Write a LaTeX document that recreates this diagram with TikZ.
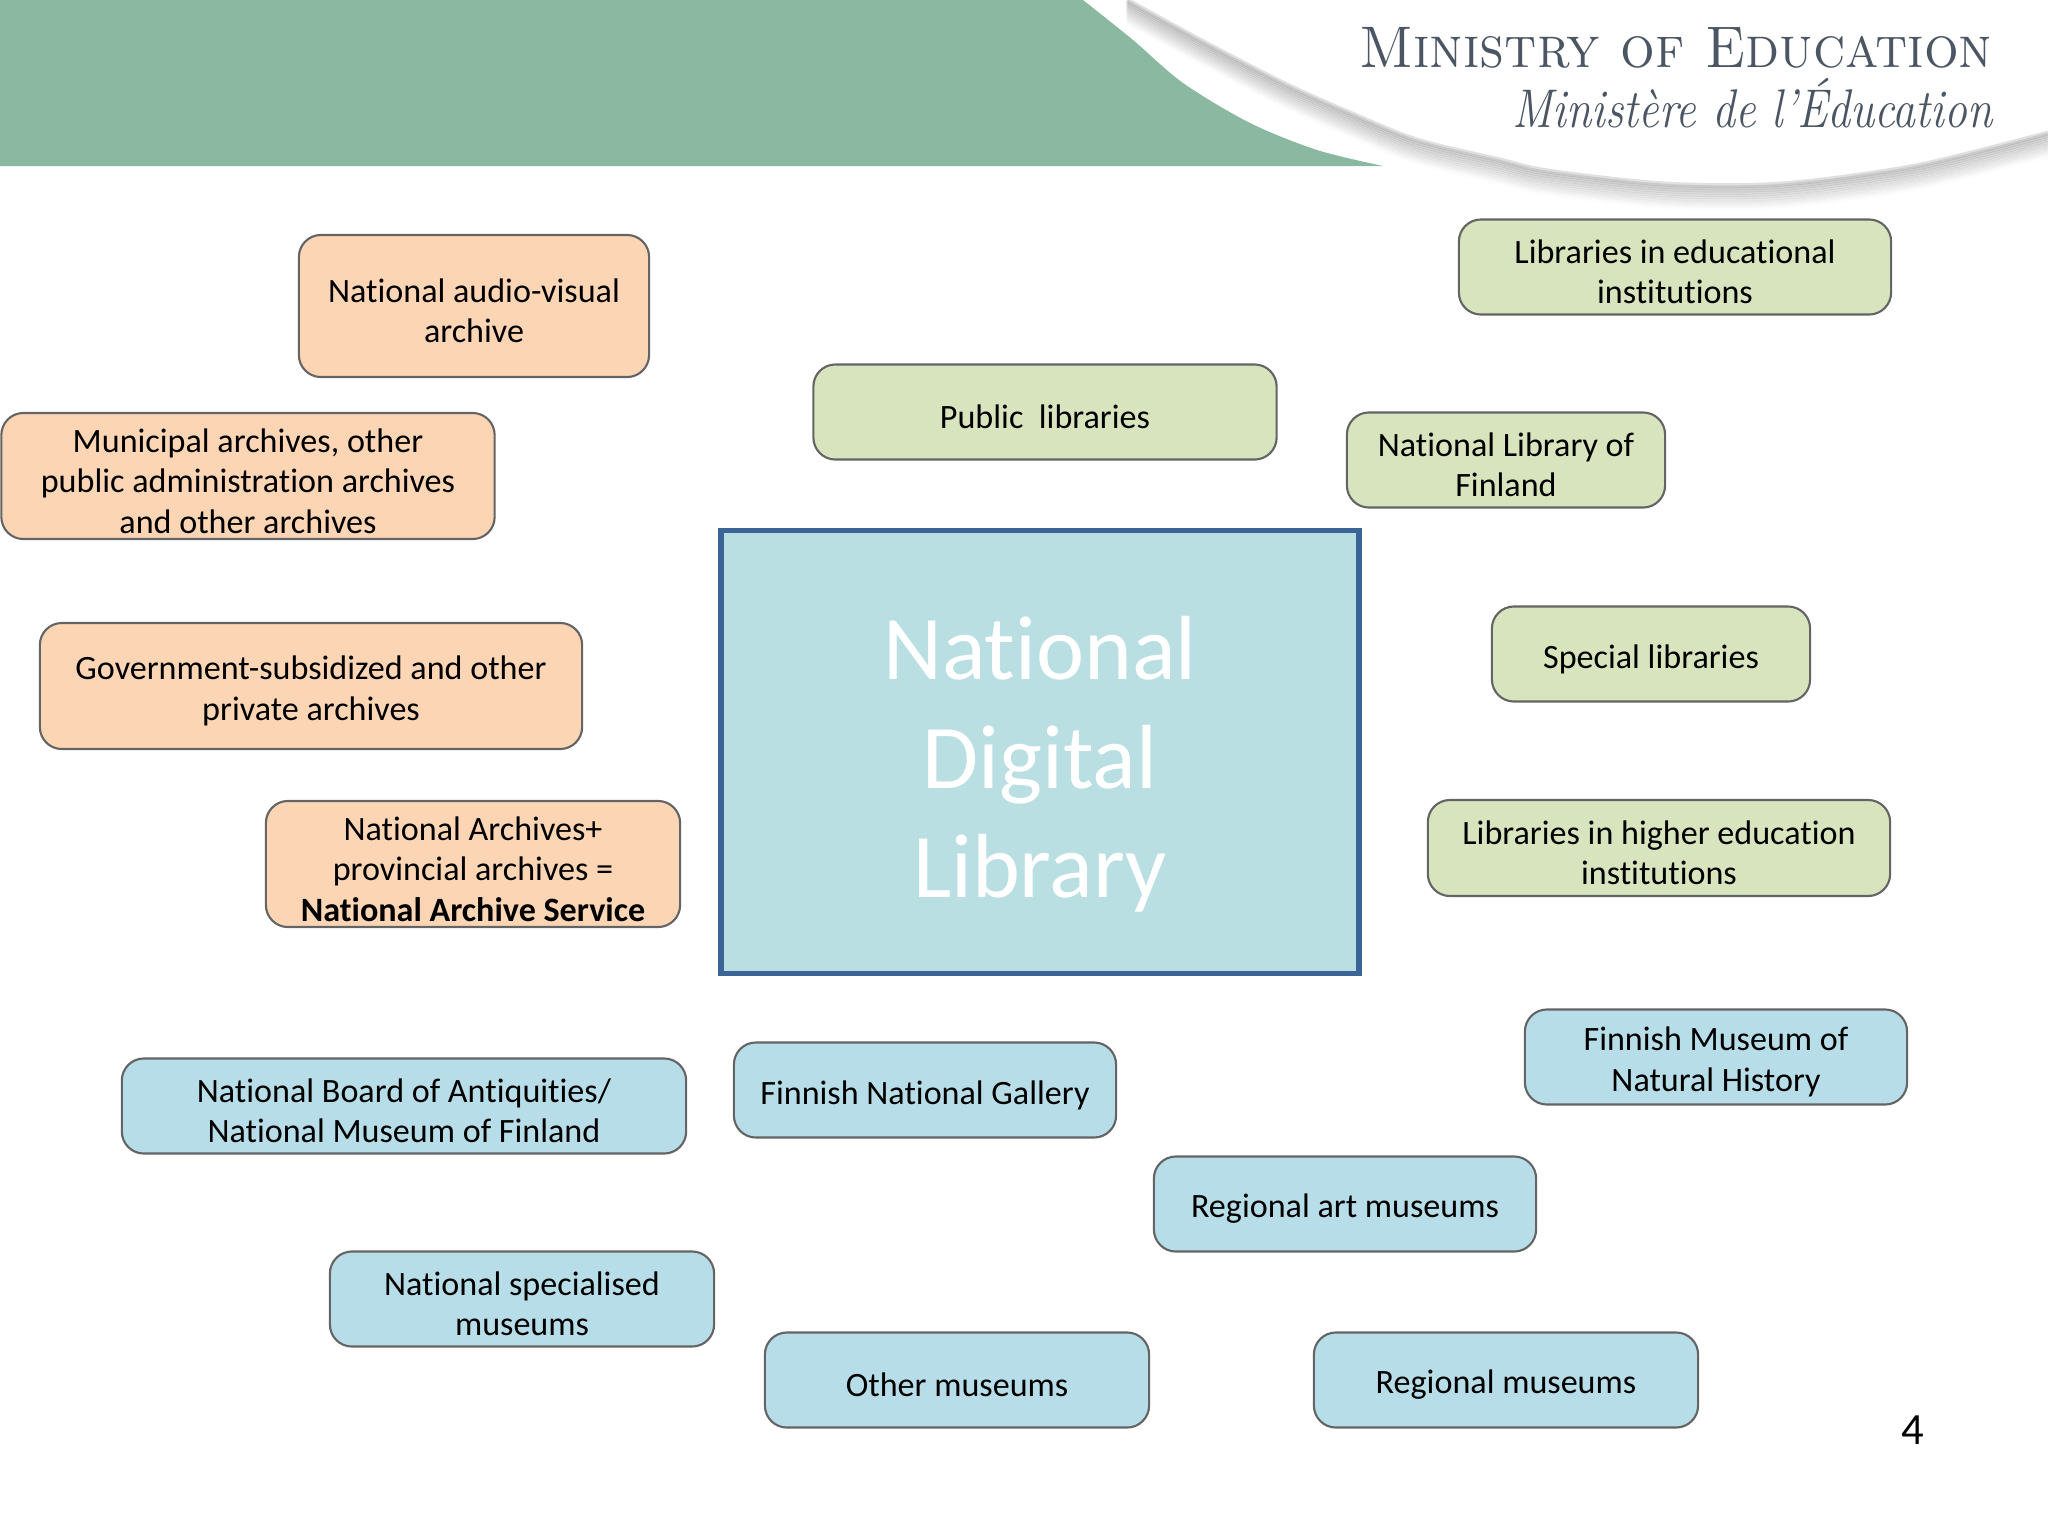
\documentclass[tikz,border=0pt]{standalone}
\usepackage{fontspec}
\setsansfont{Carlito}[Ligatures={NoCommon,NoContextual}]
\usetikzlibrary{calc,positioning}
\definecolor{archivefill}{RGB}{252,213,181}
\definecolor{libraryfill}{RGB}{215,228,189}
\definecolor{museumfill}{RGB}{183,222,232}
\definecolor{ndlfill}{RGB}{185,223,226}
\definecolor{ndlline}{RGB}{60,100,150}
\definecolor{boxline}{RGB}{100,100,100}
\definecolor{headgreen}{RGB}{138,184,160}
\definecolor{headtext}{RGB}{75,85,99}
\newcommand{\boxfont}{\sffamily\fontsize{9.7}{11.5}\selectfont}
\newcommand{\tstrut}{\rule{0pt}{9.6pt}}

\begin{document}
\begin{tikzpicture}[x=0.01cm,y=-0.01cm,smooth,
  archive/.style={rounded corners=0.22cm,draw=boxline,line width=0.6pt,
    fill=archivefill,align=center,inner sep=0pt,font=\boxfont},
  library/.style={archive,fill=libraryfill},
  museum/.style={archive,fill=museumfill}]
  \useasboundingbox (0,0) rectangle (2048,1536);

  % header band
  \fill[headgreen] (0,0) -- plot coordinates {(1083,0) (1133,40) (1183,83)
    (1250,123) (1317,150) (1383,166)} -- (0,166) -- cycle;
  \foreach \k in {0,...,10} {
    \pgfmathsetmacro{\op}{0.2*(1-\k/11)}
    \draw[black!60,opacity=\op,line width=1.4pt,yshift=-\k*0.022cm]
      plot coordinates {(1127,0) (1200,40) (1283,83) (1350,113) (1417,140)
      (1500,160) (1548,171) (1665,184) (1781,184) (1915,166) (2048,133)};
  }
  \node (moe) [anchor=base east,inner sep=0pt,text=headtext,
    font=\rmfamily\scshape\fontsize{16.7}{20}\selectfont] at (1993,67)
    {\scalebox{0.93}[1]{Ministry of Education}};
  \node (mde) [anchor=base east,inner sep=0pt,text=headtext,
    font=\rmfamily\itshape\fontsize{15.5}{18}\selectfont] at (1993,127)
    {\scalebox{0.84}[1]{Ministère de l'Éducation}};

  % centre
  \node (ndl) [draw=ndlline,line width=1.6pt,fill=ndlfill,
    minimum width=6.38cm,minimum height=4.43cm,text=white,align=center,
    font=\sffamily\fontsize{25.9}{31}\selectfont] at (1040,752)
    {\rule{0pt}{25pt}National\\Digital\\Library};

  % archives
  \node (avarch) [archive,minimum width=3.50cm,minimum height=1.42cm]
    at (474,306) {\tstrut National audio-visual\\archive};
  \node (muni) [archive,minimum width=4.93cm,minimum height=1.26cm]
    at (248,476) {\tstrut Municipal archives, other\\public administration archives\\and other archives};
  \node (govt) [archive,minimum width=5.42cm,minimum height=1.26cm]
    at (311,686) {\tstrut Government-subsidized and other\\private archives};
  \node (nas) [archive,minimum width=4.14cm,minimum height=1.26cm]
    at (473,864) {\tstrut National Archives+\\provincial archives =\\\textbf{National Archive Service}};

  % libraries
  \node (publib) [library,minimum width=4.63cm,minimum height=0.95cm]
    at (1045,412) {\tstrut Public\ \ libraries};
  \node (edulib) [library,minimum width=4.32cm,minimum height=0.95cm]
    at (1675,267) {\tstrut Libraries in educational\\institutions};
  \node (natlib) [library,minimum width=3.18cm,minimum height=0.95cm]
    at (1506,460) {\tstrut National Library of\\Finland};
  \node (speclib) [library,minimum width=3.18cm,minimum height=0.95cm]
    at (1651,654) {\tstrut Special libraries};
  \node (higherlib) [library,minimum width=4.62cm,minimum height=0.96cm]
    at (1659,848) {\tstrut Libraries in higher education\\institutions};

  % museums
  \node (antiq) [museum,minimum width=5.64cm,minimum height=0.95cm]
    at (404,1106) {\tstrut National Board of Antiquities/\\National Museum of Finland};
  \node (gallery) [museum,minimum width=3.82cm,minimum height=0.95cm]
    at (925,1090) {\tstrut Finnish National Gallery};
  \node (nathist) [museum,minimum width=3.82cm,minimum height=0.95cm]
    at (1716,1057) {\tstrut Finnish Museum of\\Natural History};
  \node (regart) [museum,minimum width=3.82cm,minimum height=0.95cm]
    at (1345,1204) {\tstrut Regional art museums};
  \node (specmus) [museum,minimum width=3.84cm,minimum height=0.95cm]
    at (522,1299) {\tstrut National specialised\\museums};
  \node (othermus) [museum,minimum width=3.84cm,minimum height=0.95cm]
    at (957,1380) {\tstrut Other museums};
  \node (regmus) [museum,minimum width=3.84cm,minimum height=0.95cm]
    at (1506,1380) {\tstrut Regional museums};

  \node (pagenum) [font=\sffamily\fontsize{12.7}{15}\selectfont]
    at (1913,1430) {4};
\end{tikzpicture}
\end{document}
